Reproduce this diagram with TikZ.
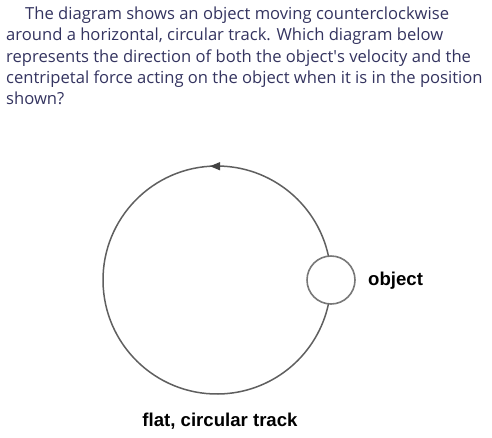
\documentclass[tikz,border=0pt]{standalone}
\usepackage{fontspec}
\setmainfont{Open Sans}
\newfontfamily\labelfont{Liberation Sans}[BoldFont={* Bold}]
\usetikzlibrary{arrows.meta,decorations.markings}
\definecolor{qtext}{RGB}{52,52,96}
\definecolor{trackgray}{RGB}{95,95,95}
\definecolor{objgray}{RGB}{120,120,120}
\begin{document}
\begin{tikzpicture}[x=1pt,y=1pt,
  qline/.style={anchor=base west,inner sep=0pt,text=qtext,font=\fontsize{16.6}{20}\selectfont},
  lbl/.style={inner sep=0pt,text=black,font=\labelfont\bfseries\fontsize{18.6}{22}\selectfont},
  trackline/.style={draw=trackgray,line width=1.5pt},
  objcircle/.style={circle,draw=objgray,line width=1.6pt,minimum size=48pt,inner sep=0pt}]
\useasboundingbox (0,0) rectangle (492,-437);
\fill[white] (0,0) rectangle (492,-437);
% question text
\node[qline] (q1) at (25,-19.5) {The diagram shows an object moving counterclockwise};
\node[qline] (q2) at (6,-40.8) {around a horizontal, circular track. Which diagram below};
\node[qline] (q3) at (6,-62) {represents the direction of both the object\textquotesingle s velocity and the};
\node[qline] (q4) at (6,-83.3) {centripetal force acting on the object when it is in the position};
\node[qline] (q5) at (6,-104.5) {shown?};
% track
\coordinate (c) at (217,-280);
\node[objcircle] (obj) at (331,-280) {};
\draw[trackline] ([shift={(12:114)}]c) arc[start angle=12,end angle=93.5,radius=114]
  coordinate (tip);
\draw[trackline] (tip) arc[start angle=93.5,end angle=348,radius=114];
\fill[trackgray!70!black] (tip) -- ++(10,4.2) -- ++(0,-8.4) -- cycle;
% labels
\node[lbl,anchor=base west] (objlbl) at (368,-285.5) {object};
\node[lbl,anchor=base] (tracklbl) at (220,-426) {flat, circular track};
\end{tikzpicture}
\end{document}
